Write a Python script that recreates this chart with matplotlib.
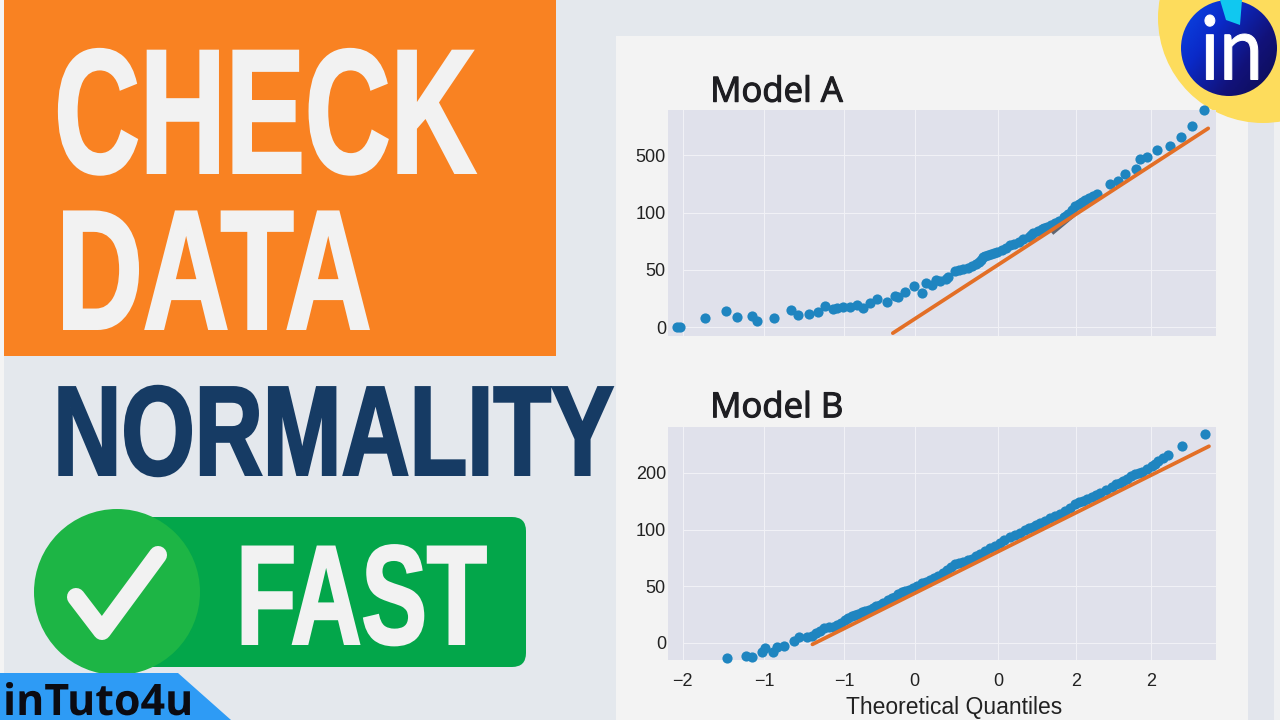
import numpy as np
import matplotlib
matplotlib.use("Agg")
import matplotlib.pyplot as plt
from matplotlib.colors import LinearSegmentedColormap
from matplotlib.patches import Rectangle, Circle, Polygon, FancyBboxPatch
from matplotlib.patheffects import AbstractPathEffect, withStroke
from matplotlib.transforms import Affine2D

# Model A
a_x = [-3.07, -3.04, -2.72, -2.45, -2.30, -2.11, -2.05, -1.83, -1.62, -1.52, -1.38, -1.27, -1.18,
       -1.07, -1.03, -0.95, -0.86, -0.77, -0.69, -0.60, -0.51, -0.39, -0.28, -0.25, -0.15, -0.04,
       0.06, 0.11, 0.19, 0.24, 0.29, 0.37, 0.40, 0.49, 0.59, 0.71, 0.79, 0.84, 0.91, 0.98, 1.09,
       1.19, 1.30, 1.43, 1.49, 1.60, 1.66, 1.77, 1.88, 1.94, 2.03, 2.11, 2.20, 2.30, 2.47, 2.57,
       2.67, 2.80, 2.86, 2.94, 3.08, 3.24, 3.38, 3.52, 3.68,
       0.54, 0.65, 0.75, 0.82, 0.87, 0.95, 1.03, 1.14, 1.24, 1.36, 1.46, 1.55, 1.63, 1.72, 1.82,
       1.91, 1.99, 2.07, 2.15, 2.25]
a_y = [0, 0, 8, 14.5, 9, 10, 5.5, 8.5, 15, 10.5, 11.3, 13.3, 19, 15.7, 16.8, 17.4, 18, 19.4, 17,
       21, 24.4, 22, 27, 26.7, 31, 36, 30, 39, 37, 41, 40, 42, 44, 49, 50.5, 53.6, 57, 61, 63, 65,
       67, 71.6, 74.5, 79, 82, 86, 87.6, 91, 96, 99, 146, 174, 198, 228, 298, 319, 370, 400, 472,
       486, 535, 565, 628, 702, 811,
       50, 52, 55, 59, 62, 64, 66, 69, 73, 77, 80, 84, 86.5, 89, 93, 97, 118, 160, 186, 213]
a_line_x = [-0.31, 3.73]
a_line_y = [-5, 686]
a_grey_x = [1.75, 1.98]
a_grey_y = [84, 97]

# Model B
b_x = [-2.43, -2.19, -2.12, -1.99, -1.95, -1.85, -1.80, -1.71, -1.58, -1.51, -1.41, -1.35, -1.29,
       -1.19, -1.07, -0.97, -0.88, -0.79, -0.71, -0.62, -0.52, -0.43, -0.32, -0.24, -0.15, -0.05,
       0.06, 0.17, 0.27, 0.38, 0.49, 0.59, 0.70, 0.81, 0.94, 1.06, 1.19, 1.32, 1.43, 1.53, 1.64,
       1.77, 1.90, 2.03, 2.13, 2.24, 2.35, 2.50, 2.60, 2.69, 2.79, 2.88, 3.01, 3.09, 3.21, 3.40, 3.69,
       -1.24, -1.13, -1.02, -0.92, -0.83, -0.75, -0.66, -0.57, -0.47, -0.37, -0.28, -0.19, -0.10,
       0.0, 0.11, 0.22, 0.33, 0.44, 0.54, 0.65, 0.75, 0.87, 1.0, 1.12, 1.25, 1.38, 1.48, 1.58,
       1.70, 1.83, 1.96, 2.08, 2.18, 2.29, 2.42, 2.55, 2.64, 2.74, 2.84, 2.95, 3.05, 3.15]
b_y = [-13.2, -11.4, -12.6, -7.6, -4.7, -7.6, -3.8, -2.6, 1.8, 5.6, 5.6, 6.2, 8.5, 12.9, 13.8,
       17.9, 21.7, 24.7, 27, 29, 32.6, 35.5, 39.3, 42.9, 45.8, 48.1, 52.5, 55.5, 59.3, 64.3, 69.6,
       71.6, 74.5, 78.9, 83.4, 87.8, 93.7, 96.7, 102, 108, 116, 124, 133, 145, 151, 158, 165, 176,
       183, 189, 198, 201, 212, 221, 231, 247, 268,
       10.5, 14.4, 15.5, 20, 23.5, 26, 28, 31, 33.8, 37.6, 41, 44.8, 46.8,
       50, 54, 57, 61.5, 67, 70.5, 73.2, 76.5, 81, 85.5, 90.5, 95, 99.5, 105, 112,
       120, 128, 139, 148, 154, 161, 170, 180, 186, 194, 199, 207, 216, 226]
b_line_x = [-1.34, 3.74]
b_line_y = [-1.2, 247]

x_ticks = [-3, -1.96, -0.93, -0.03, 1.04, 2.04, 3.0]
x_tick_labels = ['\u22122', '\u22121', '\u22121', '0', '0', '2', '2']
a_y_ticks = [0, 50, 100, 500]
b_y_ticks = [0, 50, 100, 200]

W, H = 1280, 720
fig = plt.figure(figsize=(12.8, 7.2), dpi=100, facecolor='#E4E8ED')
bg = fig.add_axes([0, 0, 1, 1], zorder=0)
bg.set_xlim(0, W)
bg.set_ylim(H, 0)
bg.axis('off')
renderer = fig.canvas.get_renderer()


class StretchY(AbstractPathEffect):
    # the poster lettering is taller and heavier than any installed font
    def __init__(self, y0, sy, stroke):
        super().__init__()
        self.y0 = y0
        self.sy = sy
        self.stroke = stroke

    def draw_path(self, renderer, gc, tpath, affine, rgbFace=None):
        stretch = Affine2D().translate(0, -self.y0).scale(1, self.sy).translate(0, self.y0)
        gc0 = renderer.new_gc()
        gc0.copy_properties(gc)
        gc0.set_linewidth(self.stroke * 0.72)
        gc0.set_foreground(rgbFace[:3])
        gc0.set_joinstyle('miter')
        renderer.draw_path(gc0, tpath, affine + stretch, rgbFace)
        gc0.restore()


def fit_text(s, x0, x1, top, base, color, family, cap=0.72, weight='bold', stroke=0):
    left = x0 + stroke / 2
    baseline = base - stroke / 2
    t = bg.text(left, baseline, s, color=color, family=family, weight=weight, fontsize=20,
                ha='left', va='baseline')
    width = t.get_window_extent(renderer).width
    size = 20 * (x1 - x0 - stroke) / width
    t.set_fontsize(size)
    sy = (base - top - stroke) / (cap * size / 0.72)
    t.set_path_effects([StretchY(H - baseline, sy, stroke)])
    return t


def rect(x, y, w, h, color):
    bg.add_patch(Rectangle((x, y), w, h, color=color, lw=0))


# backgrounds
rect(0, 0, 4, H, '#F4F4F4')
rect(616, 36, 632, H - 36, '#F3F3F3')
rect(1248, 36, 26, H - 36, '#E2E5EC')
rect(1274, 120, 6, H - 120, '#EFF0F2')

# left side poster
rect(4, 0, 552, 356, '#F98222')
narrow = ['Liberation Sans Narrow', 'Liberation Sans']
fit_text('CHECK', 53, 477, 44, 174, '#F2F2F2', narrow, stroke=2.5)
fit_text('DATA', 55, 372, 205, 330, '#F2F2F2', narrow, stroke=2.5)
fit_text('NORMALITY', 52, 614, 382, 476, '#163B64', narrow, stroke=2.5)

bg.add_patch(FancyBboxPatch((130, 517), 396, 150, boxstyle='round,pad=0,rounding_size=14',
                            fc='#03A64A', ec='none'))
bg.add_patch(Circle((117, 592), 83, fc='#1DB545', ec='none'))
bg.plot([76, 102, 158], [597, 631, 555], color='#F2F2F2', lw=13,
        solid_capstyle='round', solid_joinstyle='round')
fit_text('FAST', 235, 488, 541, 645, '#F2F2F2', narrow, stroke=2.5)

bg.add_patch(Polygon([(0, 673), (178, 673), (231, 720), (0, 720)], fc='#2E9BF5', ec='none'))
fit_text('inTuto4u', 3, 193, 684, 715, '#0B0B12', ['Open Sans'], cap=0.714)

# logo in the corner
bg.add_patch(Circle((1263, 18), 105, fc='#FDDC5C', ec='none'))
ball = Circle((1229, 48), 48, fc='none', ec='none')
bg.add_patch(ball)
gx, gy = np.meshgrid(np.linspace(0, 1, 64), np.linspace(0, 1, 64))
img = bg.imshow((1.3 * gx + gy) / 2.3, extent=(1181, 1277, 96, 0),
                cmap=LinearSegmentedColormap.from_list('ball', ['#0A48E6', '#0A2AC8', '#12127A', '#0C0C50']),
                aspect='auto', zorder=1.5)
img.set_clip_path(ball)
bg.set_xlim(0, W)
bg.set_ylim(H, 0)
bg.add_patch(Polygon([(1220, 0), (1242, 0), (1240, 25), (1226, 20)], fc='#10C8F0', ec='none', zorder=2))
logo = fit_text('in', 1200, 1264, 33, 80, 'white', ['Lato'], cap=0.52, weight='normal', stroke=1)
logo.set_zorder(3)


def forward_a(v):
    v = np.asarray(v, dtype=float)
    return np.where(v < 100, v / 50, 2 + (v - 100) / 400)


def inverse_a(p):
    p = np.asarray(p, dtype=float)
    return np.where(p < 2, p * 50, 100 + (p - 2) * 400)


def forward_b(v):
    v = np.asarray(v, dtype=float)
    return np.where(v < 100, v / 50, 2 + (v - 100) / 100)


def inverse_b(p):
    p = np.asarray(p, dtype=float)
    return np.where(p < 2, p * 50, 100 + (p - 2) * 100)


def qq_panel(box, xs, ys, line_x, line_y, y_ticks, ylim, funcs, title, title_pad):
    left, top, right, bottom = box
    ax = fig.add_axes([left / W, 1 - bottom / H, (right - left) / W, (bottom - top) / H], zorder=2)
    ax.set_facecolor('#E0E1EB')
    for s in ax.spines.values():
        s.set_visible(False)
    ax.set_yscale('function', functions=funcs)
    ax.set_xlim(-3.19, 3.83)
    ax.set_ylim(*ylim)
    ax.set_axisbelow(True)
    ax.set_xticks(x_ticks)
    ax.set_xticklabels(x_tick_labels)
    ax.set_yticks(y_ticks)
    ax.set_yticklabels([str(v) for v in y_ticks])
    ax.minorticks_off()
    ax.grid(True, axis='x', color='#F1F1F6', lw=0.8)
    ax.hlines(y_ticks, -3, 3.83, color='#F1F1F6', lw=0.8, zorder=0.5)
    ax.tick_params(length=0, labelsize=13, labelcolor='#222222', pad=1.5)
    for lab in ax.get_xticklabels() + ax.get_yticklabels():
        lab.set_family('Liberation Sans')
    ax.scatter(xs, ys, s=54, color='#1F85C0', lw=0, zorder=3, clip_on=False)
    ax.plot(line_x, line_y, color='#E36F26', lw=2.7, zorder=4, clip_on=False,
            solid_capstyle='round')
    t = ax.set_title(title, loc='left', x=0.077, pad=title_pad, fontsize=25, family='Open Sans',
                     color='#1E1E22')
    t.set_path_effects([withStroke(linewidth=0.8, foreground='#1E1E22')])
    return ax


ax_a = qq_panel((668, 110, 1216, 336), a_x, a_y, a_line_x, a_line_y, a_y_ticks, (-7.5, 814),
                (forward_a, inverse_a), 'Model A', 6)
ax_a.plot(a_grey_x, a_grey_y, color='#5F6672', lw=4, zorder=2.5)
ax_a.tick_params(axis='x', labelbottom=False)

ax_b = qq_panel((668, 427, 1216, 660), b_x, b_y, b_line_x, b_line_y, b_y_ticks, (-15, 281),
                (forward_b, inverse_b), 'Model B', 7)
ax_b.tick_params(axis='x', pad=9)
ax_b.set_xlabel('Theoretical Quantiles', family='Liberation Sans', fontsize=16.5, color='#222222',
                x=0.522, labelpad=5)

fig.savefig('out.png', dpi=100, facecolor=fig.get_facecolor())
